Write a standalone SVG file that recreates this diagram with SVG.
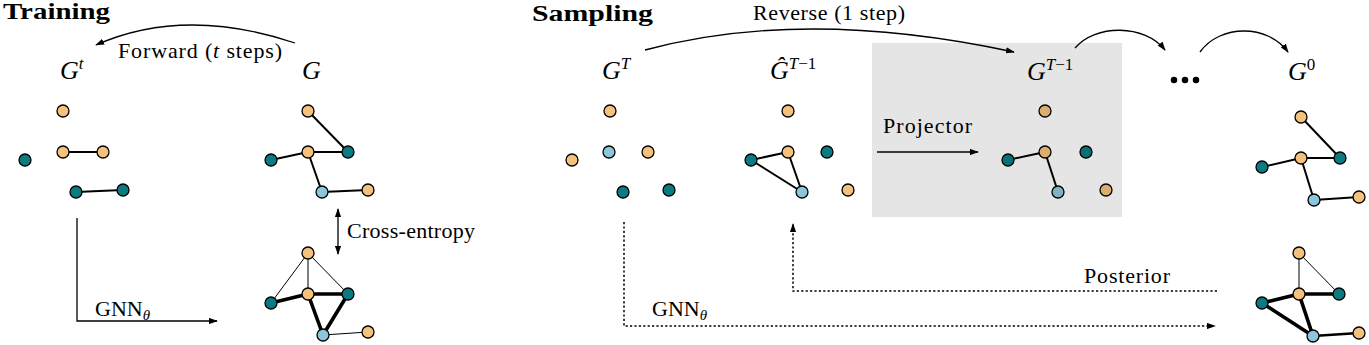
<svg xmlns="http://www.w3.org/2000/svg" width="1369" height="345" viewBox="0 0 1369 345">
<defs>
<marker id="arr" viewBox="0 0 10 7" refX="9" refY="3.5" markerWidth="9" markerHeight="6.5" markerUnits="userSpaceOnUse" orient="auto-start-reverse">
<path d="M0,0 L10,3.5 L0,7 z" fill="#000"/>
</marker>
</defs>
<style>
text{font-family:"Liberation Serif","DejaVu Serif",serif;fill:#000}
.lbl{font-size:22px}
.title{font-size:24px;font-weight:bold}
.math{font-size:26px}
.it{font-style:italic}
.sup{font-size:17px}
.sub{font-size:15px}
circle{stroke:#000;stroke-width:1.3}
.o{fill:#F4C27C}
.t{fill:#0B7B82}
.b{fill:#8CC6DA}
.bo{fill:#DBAE6F}
.bt{fill:#0A7076}
.bb{fill:#7EB2C4}
.e{stroke:#000;stroke-width:2;fill:none}
.thin{stroke:#000;stroke-width:1;fill:none}
.thick{stroke:#000;stroke-width:3.6;fill:none}
.mid{stroke:#000;stroke-width:2.6;fill:none}
.conn{stroke:#000;stroke-width:1.3;fill:none}
.dot{stroke:#000;stroke-width:1.5;fill:none;stroke-dasharray:2.2 2.2}
</style>

<rect id="projector-box" x="872" y="43" width="250" height="174" fill="#E5E5E5"/>

<g id="titles">
<text class="title" x="3" y="19" textLength="107" lengthAdjust="spacingAndGlyphs">Training</text>
<text class="title" x="532" y="21" textLength="121" lengthAdjust="spacingAndGlyphs">Sampling</text>
</g>

<g id="connectors">
<path class="conn" d="M295,43 Q184,6 96,45" marker-end="url(#arr)"/>
<text class="lbl" x="118" y="58" textLength="164">Forward (<tspan class="it">t</tspan> steps)</text>
<path class="conn" d="M338,209 V254" marker-start="url(#arr)" marker-end="url(#arr)"/>
<text class="lbl" x="347" y="238" textLength="128">Cross-entropy</text>
<path class="conn" d="M77,218 V321 H217" marker-end="url(#arr)"/>
<text class="lbl" x="95" y="316">GNN<tspan class="sub it" dy="4">θ</tspan></text>

<path class="conn" d="M645,50 Q805,7 1014,52" marker-end="url(#arr)"/>
<text class="lbl" x="753" y="20" textLength="152">Reverse (1 step)</text>
<path class="conn" d="M877,152 H978" marker-end="url(#arr)"/>
<text class="lbl" x="883" y="133" textLength="89">Projector</text>
<path class="conn" d="M1075,48 C1095,24 1145,24 1165,50" marker-end="url(#arr)"/>
<path class="conn" d="M1200,52 C1220,24 1268,24 1288,52" marker-end="url(#arr)"/>
<path class="dot" d="M624,222 V326 H1215" marker-end="url(#arr)"/>
<text class="lbl" x="652" y="316">GNN<tspan class="sub it" dy="4">θ</tspan></text>
<path class="dot" d="M1217,291 H793 V224" marker-end="url(#arr)"/>
<text class="lbl" x="1084" y="283" textLength="86">Posterior</text>
</g>

<g id="graph-Gt">
<text class="math" x="60" y="79"><tspan class="it">G</tspan><tspan class="sup it" dy="-10">t</tspan></text>
<line class="e" x1="63" y1="152" x2="103" y2="152"/>
<line class="e" x1="76" y1="192" x2="123" y2="190"/>
<circle class="o" cx="63" cy="111" r="6"/>
<circle class="o" cx="63" cy="152" r="6"/>
<circle class="o" cx="103" cy="152" r="6"/>
<circle class="t" cx="25" cy="160" r="6"/>
<circle class="t" cx="76" cy="192" r="6"/>
<circle class="t" cx="123" cy="190" r="6"/>
</g>

<g id="graph-G">
<text class="math" x="302" y="79"><tspan class="it">G</tspan></text>
<line class="e" x1="308" y1="111" x2="348" y2="152"/>
<line class="e" x1="271" y1="160" x2="308" y2="152"/>
<line class="e" x1="308" y1="152" x2="348" y2="152"/>
<line class="e" x1="308" y1="152" x2="322" y2="192"/>
<line class="e" x1="322" y1="192" x2="368" y2="190"/>
<circle class="o" cx="308" cy="111" r="6"/>
<circle class="t" cx="348" cy="152" r="6"/>
<circle class="o" cx="308" cy="152" r="6"/>
<circle class="t" cx="271" cy="160" r="6"/>
<circle class="b" cx="322" cy="192" r="6"/>
<circle class="o" cx="368" cy="190" r="6"/>
</g>

<g id="graph-train-pred">
<line class="thin" x1="308" y1="253" x2="271" y2="303"/>
<line class="thin" x1="308" y1="253" x2="308" y2="294"/>
<line class="thin" x1="308" y1="253" x2="348" y2="294"/>
<line class="thin" x1="323" y1="335" x2="368" y2="332"/>
<line class="thick" x1="271" y1="303" x2="308" y2="294"/>
<line class="thick" x1="308" y1="294" x2="348" y2="294"/>
<line class="thick" x1="308" y1="294" x2="323" y2="335"/>
<line class="thick" x1="348" y1="294" x2="323" y2="335"/>
<circle class="o" cx="308" cy="253" r="6"/>
<circle class="o" cx="308" cy="294" r="6"/>
<circle class="t" cx="348" cy="294" r="6"/>
<circle class="t" cx="271" cy="303" r="6"/>
<circle class="b" cx="323" cy="335" r="6"/>
<circle class="o" cx="368" cy="332" r="6"/>
</g>

<g id="graph-GT">
<text class="math" x="602" y="79"><tspan class="it">G</tspan><tspan class="sup it" dy="-10">T</tspan></text>
<circle class="o" cx="610" cy="111" r="6"/>
<circle class="b" cx="609" cy="152" r="6"/>
<circle class="o" cx="648" cy="152" r="6"/>
<circle class="o" cx="572" cy="160" r="6"/>
<circle class="t" cx="623" cy="192" r="6"/>
<circle class="t" cx="669" cy="190" r="6"/>
</g>

<g id="graph-Ghat">
<text class="math" x="770" y="79"><tspan class="it">Ĝ</tspan><tspan class="sup" dy="-10"><tspan class="it">T</tspan>−1</tspan></text>
<line class="e" x1="751" y1="160" x2="788" y2="152"/>
<line class="e" x1="751" y1="160" x2="802" y2="192"/>
<line class="e" x1="788" y1="152" x2="802" y2="192"/>
<circle class="o" cx="788" cy="111" r="6"/>
<circle class="o" cx="788" cy="152" r="6"/>
<circle class="t" cx="827" cy="152" r="6"/>
<circle class="t" cx="751" cy="160" r="6"/>
<circle class="b" cx="802" cy="192" r="6"/>
<circle class="o" cx="848" cy="190" r="6"/>
</g>

<g id="graph-GT1">
<text class="math" x="1027" y="80"><tspan class="it">G</tspan><tspan class="sup" dy="-10"><tspan class="it">T</tspan>−1</tspan></text>
<line class="e" x1="1008" y1="160" x2="1045" y2="152"/>
<line class="e" x1="1045" y1="152" x2="1058" y2="192"/>
<circle class="bo" cx="1045" cy="111" r="6"/>
<circle class="bo" cx="1045" cy="152" r="6"/>
<circle class="bt" cx="1086" cy="152" r="6"/>
<circle class="bt" cx="1008" cy="160" r="6"/>
<circle class="bb" cx="1058" cy="192" r="6"/>
<circle class="bo" cx="1106" cy="190" r="6"/>
</g>

<g id="ellipsis">
<circle cx="1174" cy="80" r="2.6" fill="#000" stroke="none"/>
<circle cx="1185" cy="80" r="2.6" fill="#000" stroke="none"/>
<circle cx="1196" cy="80" r="2.6" fill="#000" stroke="none"/>
</g>

<g id="graph-G0">
<text class="math" x="1288" y="80"><tspan class="it">G</tspan><tspan class="sup" dy="-10">0</tspan></text>
<line class="e" x1="1301" y1="117" x2="1340" y2="158"/>
<line class="e" x1="1262" y1="167" x2="1301" y2="158"/>
<line class="e" x1="1301" y1="158" x2="1340" y2="158"/>
<line class="e" x1="1301" y1="158" x2="1314" y2="200"/>
<line class="e" x1="1314" y1="200" x2="1359" y2="197"/>
<circle class="o" cx="1301" cy="117" r="6"/>
<circle class="t" cx="1340" cy="158" r="6"/>
<circle class="o" cx="1301" cy="158" r="6"/>
<circle class="t" cx="1262" cy="167" r="6"/>
<circle class="b" cx="1314" cy="200" r="6"/>
<circle class="o" cx="1359" cy="197" r="6"/>
</g>

<g id="graph-sample-pred">
<line class="thin" x1="1299" y1="253" x2="1299" y2="294"/>
<line class="thin" x1="1299" y1="253" x2="1339" y2="294"/>
<line class="thick" x1="1299" y1="294" x2="1339" y2="294"/>
<line class="thick" x1="1262" y1="303" x2="1299" y2="294"/>
<line class="thick" x1="1262" y1="303" x2="1313" y2="336"/>
<line class="thick" x1="1299" y1="294" x2="1313" y2="336"/>
<line class="mid" x1="1313" y1="336" x2="1359" y2="333"/>
<circle class="o" cx="1299" cy="253" r="6"/>
<circle class="o" cx="1299" cy="294" r="6"/>
<circle class="t" cx="1339" cy="294" r="6"/>
<circle class="t" cx="1262" cy="303" r="6"/>
<circle class="b" cx="1313" cy="336" r="6"/>
<circle class="o" cx="1359" cy="333" r="6"/>
</g>
</svg>
